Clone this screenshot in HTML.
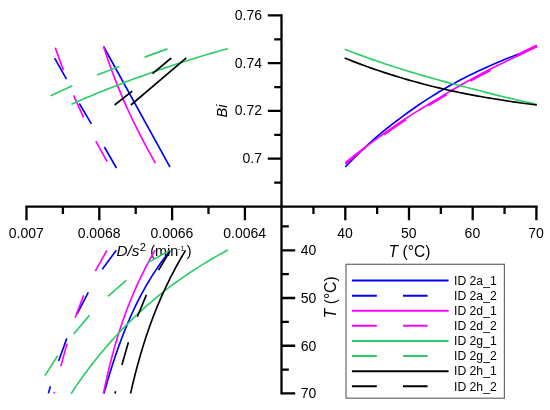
<!DOCTYPE html>
<html><head><meta charset="utf-8"><title>Chart</title>
<style>html,body{margin:0;padding:0;background:#fff;}svg{display:block;}</style>
</head><body>
<svg width="550" height="410" viewBox="0 0 550 410" font-family="'Liberation Sans', sans-serif" fill="#000">
<rect width="550" height="410" fill="#fff"/>
<g id="axes"><path d="M25.4,206.6 L537.6,206.6" stroke="#000" stroke-width="2.3" fill="none"/><path d="M281.5,14.3 L281.5,394.6" stroke="#000" stroke-width="2.3" fill="none"/><path d="M26.50,206.6 v13.7 M62.90,206.6 v7.3 M99.30,206.6 v13.7 M135.70,206.6 v7.3 M172.10,206.6 v13.7 M208.50,206.6 v7.3 M244.90,206.6 v13.7 M345.30,206.6 v13.7 M313.45,206.6 v7.3 M409.00,206.6 v13.7 M377.15,206.6 v7.3 M472.70,206.6 v13.7 M440.85,206.6 v7.3 M536.40,206.6 v13.7 M504.55,206.6 v7.3 M281.5,15.45 h-13.7 M281.5,39.33 h-7.3 M281.5,63.20 h-13.7 M281.5,87.08 h-7.3 M281.5,110.95 h-13.7 M281.5,134.83 h-7.3 M281.5,158.70 h-13.7 M281.5,182.58 h-7.3 M281.5,250.30 h13.7 M281.5,226.44 h7.3 M281.5,298.02 h13.7 M281.5,274.16 h7.3 M281.5,345.74 h13.7 M281.5,321.88 h7.3 M281.5,393.46 h13.7 M281.5,369.60 h7.3" stroke="#000" stroke-width="2.3" fill="none"/></g>
<g id="labels"><text x="26.3" y="237.8" text-anchor="middle" font-size="14">0.007</text><text x="99.1" y="237.8" text-anchor="middle" font-size="14">0.0068</text><text x="171.9" y="237.8" text-anchor="middle" font-size="14">0.0066</text><text x="244.7" y="237.8" text-anchor="middle" font-size="14">0.0064</text><text x="345.0" y="237.8" text-anchor="middle" font-size="14">40</text><text x="408.7" y="237.8" text-anchor="middle" font-size="14">50</text><text x="472.4" y="237.8" text-anchor="middle" font-size="14">60</text><text x="536.1" y="237.8" text-anchor="middle" font-size="14">70</text><text x="262" y="20.2" text-anchor="end" font-size="14">0.76</text><text x="262" y="67.8" text-anchor="end" font-size="14">0.74</text><text x="262" y="115.4" text-anchor="end" font-size="14">0.72</text><text x="262" y="163.0" text-anchor="end" font-size="14">0.7</text><text x="300.8" y="255.3" text-anchor="start" font-size="14">40</text><text x="300.8" y="302.9" text-anchor="start" font-size="14">50</text><text x="300.8" y="350.6" text-anchor="start" font-size="14">60</text><text x="300.8" y="398.2" text-anchor="start" font-size="14">70</text><text y="255.6" font-size="15.4"><tspan x="116.4" font-style="italic">D/s</tspan><tspan x="139.8" y="251.4" font-size="11">2</tspan><tspan x="150.3" y="255.6" font-size="14.4">(min</tspan><tspan x="178.1" y="251.4" font-size="7">-1</tspan><tspan x="186.8" y="255.6" font-size="14.4">)</tspan></text><text x="388.6" y="256.8" font-size="15.6"><tspan font-style="italic">T</tspan> (°C)</text><text transform="translate(226.9,111.0) rotate(-90)" text-anchor="middle" font-size="14.6" font-style="italic">Bi</text><text transform="translate(335.7,297.3) rotate(-90)" text-anchor="middle" font-size="15.6"><tspan font-style="italic">T</tspan> (°C)</text></g>
<g id="tl"><path d="M103.60,46.50 L170.00,167.10" fill="none" stroke="#0000ff" stroke-width="1.65" stroke-linecap="butt" stroke-linejoin="round"/><path d="M54.60,58.20 L66.50,79.20 M79.30,103.50 L91.40,123.80 M104.40,147.00 L116.40,168.00" fill="none" stroke="#0000ff" stroke-width="1.65" stroke-linecap="butt" stroke-linejoin="round"/><path d="M103.60,46.50 L104.55,49.49 L105.51,52.48 L106.50,55.47 L107.51,58.46 L108.53,61.45 L109.58,64.44 L110.65,67.43 L111.74,70.42 L112.84,73.41 L113.97,76.40 L115.12,79.39 L116.29,82.38 L117.47,85.37 L118.68,88.36 L119.91,91.35 L121.16,94.34 L122.43,97.33 L123.71,100.32 L125.02,103.31 L126.35,106.29 L127.70,109.28 L129.07,112.27 L130.45,115.26 L131.86,118.25 L133.29,121.24 L134.74,124.23 L136.21,127.22 L137.70,130.21 L139.21,133.20 L140.74,136.19 L142.29,139.18 L143.85,142.17 L145.44,145.16 L147.05,148.15 L148.68,151.14 L150.33,154.13 L152.00,157.12 L153.69,160.11 L155.40,163.10" fill="none" stroke="#ff00ff" stroke-width="1.65" stroke-linecap="butt" stroke-linejoin="round"/><path d="M55.20,47.80 L63.40,70.10 M73.60,95.30 L83.50,117.40 M95.80,141.10 L107.10,161.60" fill="none" stroke="#ff00ff" stroke-width="1.65" stroke-linecap="butt" stroke-linejoin="round"/><path d="M71.40,104.18 L75.41,102.44 L79.42,100.72 L83.43,99.01 L87.44,97.33 L91.45,95.65 L95.46,94.00 L99.47,92.36 L103.48,90.73 L107.49,89.13 L111.50,87.54 L115.51,85.96 L119.52,84.40 L123.53,82.86 L127.54,81.34 L131.55,79.83 L135.56,78.34 L139.57,76.87 L143.58,75.41 L147.59,73.97 L151.61,72.54 L155.62,71.13 L159.63,69.74 L163.64,68.36 L167.65,67.00 L171.66,65.66 L175.67,64.33 L179.68,63.02 L183.69,61.73 L187.70,60.45 L191.71,59.19 L195.72,57.95 L199.73,56.72 L203.74,55.51 L207.75,54.32 L211.76,53.14 L215.77,51.98 L219.78,50.83 L223.79,49.70 L227.80,48.59" fill="none" stroke="#2ecc68" stroke-width="1.65" stroke-linecap="butt" stroke-linejoin="round"/><path d="M50.60,95.70 L72.40,85.80 M97.00,75.00 L119.30,66.60 M144.60,57.10 L167.50,48.90" fill="none" stroke="#2ecc68" stroke-width="1.65" stroke-linecap="butt" stroke-linejoin="round"/><path d="M130.90,105.00 L186.30,57.90" fill="none" stroke="#000000" stroke-width="1.65" stroke-linecap="butt" stroke-linejoin="round"/><path d="M114.60,105.00 L132.30,91.10 M152.50,73.60 L171.30,58.00" fill="none" stroke="#000000" stroke-width="1.65" stroke-linecap="butt" stroke-linejoin="round"/></g>
<g id="tr"><path d="M345.30,166.98 L349.21,162.91 L353.12,158.93 L357.04,155.05 L360.95,151.25 L364.86,147.54 L368.77,143.92 L372.69,140.38 L376.60,136.92 L380.51,133.56 L384.42,130.36 L388.33,127.25 L392.25,124.21 L396.16,121.25 L400.07,118.36 L403.98,115.40 L407.90,112.52 L411.81,109.71 L415.72,106.96 L419.63,104.28 L423.54,101.67 L427.46,99.12 L431.37,96.63 L435.28,94.20 L439.19,91.83 L443.11,89.52 L447.02,87.26 L450.93,85.06 L454.84,82.91 L458.76,80.81 L462.67,78.76 L466.58,76.76 L470.49,74.80 L474.40,72.89 L478.32,71.03 L482.23,69.21 L486.14,67.43 L490.05,65.68 L493.97,63.98 L497.88,62.31 L501.79,60.68 L505.70,59.08 L509.61,57.51 L513.53,55.97 L517.44,54.47 L521.35,52.92 L525.26,51.28 L529.18,49.67 L533.09,48.07 L537.00,46.50" fill="none" stroke="#0000ff" stroke-width="1.65" stroke-linecap="butt" stroke-linejoin="round"/><path d="M345.30,162.60 L349.21,159.53 L353.12,156.48 L357.04,153.47 L360.95,150.48 L364.86,147.52 L368.77,144.59 L372.69,141.69 L376.60,138.81 L380.51,135.97 L384.42,133.15 L388.33,130.36 L392.25,127.60 L396.16,124.90 L400.07,122.29 L403.98,119.72 L407.90,117.17 L411.81,114.66 L415.72,112.17 L419.63,109.71 L423.54,107.28 L427.46,104.89 L431.37,102.52 L435.28,100.18 L439.19,97.87 L443.11,95.51 L447.02,93.15 L450.93,90.83 L454.84,88.53 L458.76,86.27 L462.67,84.03 L466.58,81.83 L470.49,79.66 L474.40,77.52 L478.32,75.41 L482.23,73.33 L486.14,71.29 L490.05,69.28 L493.97,67.29 L497.88,65.34 L501.79,63.43 L505.70,61.54 L509.61,59.69 L513.53,57.87 L517.44,56.08 L521.35,54.24 L525.26,52.28 L529.18,50.35 L533.09,48.45 L537.00,46.59" fill="none" stroke="#ff00ff" stroke-width="1.65" stroke-linecap="butt" stroke-linejoin="round"/><path d="M345.30,164.10 L347.09,162.58 L348.88,161.07 L350.67,159.56 L352.46,158.06 L354.25,156.56 L356.05,155.08 L357.84,153.59 L359.63,152.11 L361.42,150.64 L363.21,149.18 L365.00,147.72 M384.00,134.65 L386.00,133.22 L388.00,131.80 L390.00,130.38 L392.00,128.97 L394.00,127.57 L396.00,126.21 L398.00,124.87 L400.00,123.54 L402.00,122.22 L404.00,120.91 L406.00,119.60 M428.00,105.75 L429.68,104.74 L431.36,103.72 L433.05,102.71 L434.73,101.71 L436.41,100.71 L438.09,99.72 L439.77,98.73 L441.45,97.71 L443.14,96.69 L444.82,95.67 L446.50,94.66 M470.50,80.86 L472.32,79.86 L474.14,78.87 L475.95,77.88 L477.77,76.90 L479.59,75.93 L481.41,74.97 L483.23,74.01 L485.05,73.06 L486.86,72.11 L488.68,71.18 L490.50,70.25 M516.90,55.02 L518.73,54.20 L520.55,53.34 L522.38,52.42 L524.21,51.50 L526.04,50.59 L527.86,49.69 L529.69,48.80 L531.52,47.91 L533.35,47.03 L535.17,46.16 L537.00,45.29" fill="none" stroke="#ff00ff" stroke-width="2.0" stroke-linecap="butt" stroke-linejoin="round"/><path d="M344.60,49.17 L348.52,50.70 L352.45,52.21 L356.37,53.69 L360.30,55.14 L364.22,56.58 L368.15,57.99 L372.07,59.38 L376.00,60.74 L379.92,62.09 L383.84,63.41 L387.77,64.72 L391.69,66.00 L395.62,67.26 L399.54,68.51 L403.47,69.74 L407.39,70.94 L411.32,72.14 L415.24,73.31 L419.17,74.47 L423.09,75.61 L427.01,76.73 L430.94,77.84 L434.86,78.94 L438.79,80.02 L442.71,81.09 L446.64,82.14 L450.56,83.18 L454.49,84.21 L458.41,85.23 L462.33,86.24 L466.26,87.23 L470.18,88.22 L474.11,89.26 L478.03,90.29 L481.96,91.32 L485.88,92.33 L489.81,93.34 L493.73,94.33 L497.66,95.33 L501.58,96.29 L505.50,97.21 L509.43,98.13 L513.35,99.05 L517.28,99.96 L521.20,100.86 L525.13,101.76 L529.05,102.66 L532.98,103.56 L536.90,104.45" fill="none" stroke="#2ecc68" stroke-width="1.65" stroke-linecap="butt" stroke-linejoin="round"/><path d="M344.60,58.05 L348.52,59.60 L352.45,61.13 L356.37,62.63 L360.30,64.11 L364.22,65.55 L368.15,66.96 L372.07,68.35 L376.00,69.71 L379.92,71.04 L383.84,72.35 L387.77,73.62 L391.69,74.88 L395.62,76.10 L399.54,77.30 L403.47,78.47 L407.39,79.61 L411.32,80.73 L415.24,81.83 L419.17,82.90 L423.09,83.94 L427.01,84.96 L430.94,85.96 L434.86,86.93 L438.79,87.88 L442.71,88.80 L446.64,89.70 L450.56,90.58 L454.49,91.43 L458.41,92.26 L462.33,93.07 L466.26,93.86 L470.18,94.62 L474.11,95.37 L478.03,96.09 L481.96,96.79 L485.88,97.47 L489.81,98.13 L493.73,98.76 L497.66,99.38 L501.58,100.00 L505.50,100.63 L509.43,101.24 L513.35,101.83 L517.28,102.41 L521.20,102.96 L525.13,103.49 L529.05,104.01 L532.98,104.51 L536.90,104.99" fill="none" stroke="#000000" stroke-width="1.65" stroke-linecap="butt" stroke-linejoin="round"/></g>
<g id="bl"><path d="M170.30,250.40 L167.98,253.32 L165.72,256.24 L163.53,259.16 L161.40,262.08 L159.33,265.00 L157.32,267.92 L155.36,270.84 L153.46,273.76 L151.60,276.68 L149.80,279.60 L148.05,282.52 L146.34,285.44 L144.67,288.37 L143.05,291.29 L141.47,294.21 L139.93,297.13 L138.43,300.05 L136.96,302.97 L135.54,305.89 L134.14,308.81 L132.78,311.73 L131.45,314.65 L130.15,317.57 L128.88,320.49 L127.63,323.41 L126.42,326.33 L125.23,329.25 L124.06,332.17 L122.92,335.09 L121.80,338.01 L120.70,340.93 L119.63,343.85 L118.57,346.77 L117.54,349.69 L116.52,352.61 L115.52,355.53 L114.54,358.46 L113.58,361.38 L112.63,364.30 L111.70,367.22 L110.78,370.14 L109.88,373.06 L109.00,375.98 L108.12,378.90 L107.27,381.82 L106.42,384.74 L105.59,387.66 L104.78,390.58 L103.97,393.50" fill="none" stroke="#0000ff" stroke-width="1.65" stroke-linecap="butt" stroke-linejoin="round"/><path d="M116.30,250.20 L102.30,269.30 M88.30,292.30 L77.00,314.10 M66.80,338.40 L58.60,361.00 M50.40,386.30 L48.40,393.40" fill="none" stroke="#0000ff" stroke-width="1.65" stroke-linecap="butt" stroke-linejoin="round"/><path d="M154.99,250.40 L153.31,253.32 L151.66,256.24 L150.04,259.16 L148.46,262.08 L146.91,265.00 L145.39,267.92 L143.90,270.84 L142.44,273.76 L141.01,276.68 L139.62,279.60 L138.25,282.52 L136.91,285.44 L135.60,288.37 L134.32,291.29 L133.07,294.21 L131.84,297.13 L130.64,300.05 L129.46,302.97 L128.32,305.89 L127.19,308.81 L126.09,311.73 L125.02,314.65 L123.97,317.57 L122.94,320.49 L121.94,323.41 L120.96,326.33 L120.00,329.25 L119.06,332.17 L118.14,335.09 L117.24,338.01 L116.37,340.93 L115.51,343.85 L114.67,346.77 L113.85,349.69 L113.05,352.61 L112.27,355.53 L111.50,358.46 L110.75,361.38 L110.01,364.30 L109.30,367.22 L108.59,370.14 L107.90,373.06 L107.23,375.98 L106.57,378.90 L105.92,381.82 L105.29,384.74 L104.67,387.66 L104.06,390.58 L103.46,393.50" fill="none" stroke="#ff00ff" stroke-width="1.65" stroke-linecap="butt" stroke-linejoin="round"/><path d="M106.80,250.50 L95.30,271.10 M83.60,295.40 L75.10,317.70 M67.00,343.60 L60.80,366.40 M54.50,392.00 L54.00,393.50" fill="none" stroke="#ff00ff" stroke-width="1.65" stroke-linecap="butt" stroke-linejoin="round"/><path d="M227.80,250.00 L222.40,252.93 L217.16,255.87 L212.07,258.80 L207.12,261.73 L202.31,264.66 L197.63,267.60 L193.08,270.53 L188.66,273.46 L184.35,276.39 L180.15,279.33 L176.07,282.26 L172.09,285.19 L168.20,288.12 L164.42,291.06 L160.73,293.99 L157.12,296.92 L153.60,299.86 L150.16,302.79 L146.80,305.72 L143.51,308.65 L140.30,311.59 L137.15,314.52 L134.07,317.45 L131.05,320.38 L128.09,323.32 L125.19,326.25 L122.34,329.18 L119.55,332.11 L116.81,335.05 L114.13,337.98 L111.48,340.91 L108.89,343.84 L106.34,346.78 L103.84,349.71 L101.37,352.64 L98.95,355.58 L96.58,358.51 L94.24,361.44 L91.94,364.37 L89.68,367.31 L87.46,370.24 L85.28,373.17 L83.14,376.10 L81.04,379.04 L78.98,381.97 L76.96,384.90 L74.99,387.83 L73.05,390.77 L71.15,393.70" fill="none" stroke="#2ecc68" stroke-width="1.65" stroke-linecap="butt" stroke-linejoin="round"/><path d="M169.00,250.70 L147.10,263.10 M126.20,280.30 L107.90,296.30 M89.40,315.40 L73.70,334.00 M57.70,355.70 L44.90,375.60" fill="none" stroke="#2ecc68" stroke-width="1.65" stroke-linecap="butt" stroke-linejoin="round"/><path d="M185.50,250.40 L183.75,253.32 L182.04,256.24 L180.35,259.16 L178.70,262.08 L177.09,265.00 L175.50,267.92 L173.95,270.84 L172.42,273.76 L170.93,276.68 L169.46,279.60 L168.03,282.52 L166.62,285.44 L165.24,288.37 L163.89,291.29 L162.57,294.21 L161.27,297.13 L160.00,300.05 L158.76,302.97 L157.54,305.89 L156.34,308.81 L155.17,311.73 L154.03,314.65 L152.91,317.57 L151.81,320.49 L150.73,323.41 L149.68,326.33 L148.65,329.25 L147.64,332.17 L146.65,335.09 L145.68,338.01 L144.73,340.93 L143.80,343.85 L142.89,346.77 L142.00,349.69 L141.13,352.61 L140.27,355.53 L139.43,358.46 L138.61,361.38 L137.80,364.30 L137.01,367.22 L136.24,370.14 L135.48,373.06 L134.74,375.98 L134.01,378.90 L133.29,381.82 L132.58,384.74 L131.89,387.66 L131.21,390.58 L130.54,393.50" fill="none" stroke="#000000" stroke-width="1.65" stroke-linecap="butt" stroke-linejoin="round"/><path d="M169.60,251.80 L158.60,270.20 M146.40,294.90 L137.30,316.80 M128.40,342.30 L121.90,365.00 M115.60,391.30 L115.00,393.40" fill="none" stroke="#000000" stroke-width="1.65" stroke-linecap="butt" stroke-linejoin="round"/></g>
<g id="legend"><rect x="346" y="264.3" width="158.4" height="133.9" fill="#fff" stroke="#6a6a6a" stroke-width="1.2"/><path d="M351.9,280.60 L448.6,280.60" fill="none" stroke="#0000ff" stroke-width="2.0" stroke-linecap="butt" stroke-linejoin="round"/><text x="454" y="284.90" font-size="12.2">ID 2a_1</text><path d="M351.9,295.69 L376.8,295.69 M403,295.69 L427.6,295.69" fill="none" stroke="#0000ff" stroke-width="2.0" stroke-linecap="butt" stroke-linejoin="round"/><text x="454" y="299.99" font-size="12.2">ID 2a_2</text><path d="M351.9,310.78 L448.6,310.78" fill="none" stroke="#ff00ff" stroke-width="2.0" stroke-linecap="butt" stroke-linejoin="round"/><text x="454" y="315.08" font-size="12.2">ID 2d_1</text><path d="M351.9,325.87 L376.8,325.87 M403,325.87 L427.6,325.87" fill="none" stroke="#ff00ff" stroke-width="2.0" stroke-linecap="butt" stroke-linejoin="round"/><text x="454" y="330.17" font-size="12.2">ID 2d_2</text><path d="M351.9,340.96 L448.6,340.96" fill="none" stroke="#2ecc68" stroke-width="2.0" stroke-linecap="butt" stroke-linejoin="round"/><text x="454" y="345.26" font-size="12.2">ID 2g_1</text><path d="M351.9,356.05 L376.8,356.05 M403,356.05 L427.6,356.05" fill="none" stroke="#2ecc68" stroke-width="2.0" stroke-linecap="butt" stroke-linejoin="round"/><text x="454" y="360.35" font-size="12.2">ID 2g_2</text><path d="M351.9,371.14 L448.6,371.14" fill="none" stroke="#000000" stroke-width="2.0" stroke-linecap="butt" stroke-linejoin="round"/><text x="454" y="375.44" font-size="12.2">ID 2h_1</text><path d="M351.9,386.23 L376.8,386.23 M403,386.23 L427.6,386.23" fill="none" stroke="#000000" stroke-width="2.0" stroke-linecap="butt" stroke-linejoin="round"/><text x="454" y="390.53" font-size="12.2">ID 2h_2</text></g>
</svg>
</body></html>
